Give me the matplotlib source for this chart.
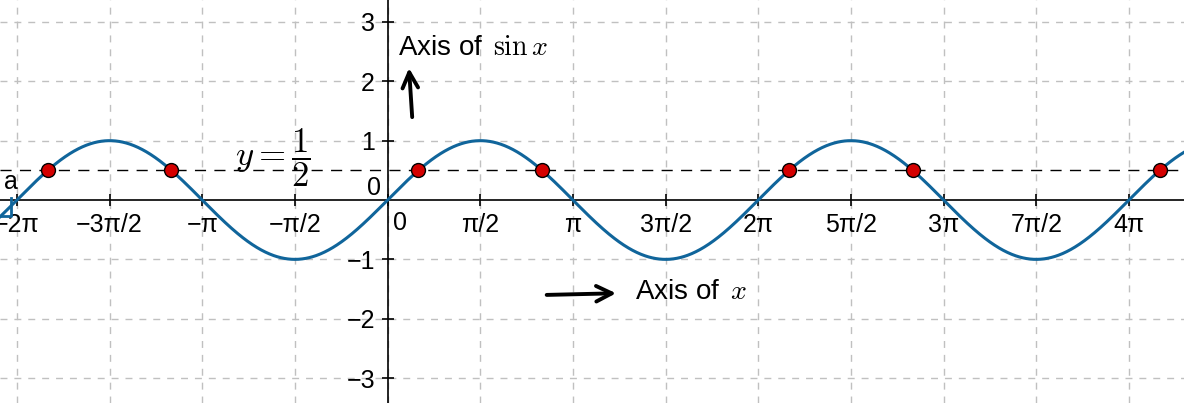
import numpy as np
import matplotlib.pyplot as plt

plt.rcParams['font.family'] = ['Liberation Sans', 'DejaVu Sans']
plt.rcParams['mathtext.fontset'] = 'cm'

# tick positions in units of pi/2 and their labels
x_tick_k = [-4, -3, -2, -1, 0, 1, 2, 3, 4, 5, 6, 7, 8]
x_tick_labels = ['\u22122\u03c0', '\u22123\u03c0/2', '\u2212\u03c0', '\u2212\u03c0/2', '',
                 '\u03c0/2', '\u03c0', '3\u03c0/2', '2\u03c0', '5\u03c0/2', '3\u03c0',
                 '7\u03c0/2', '4\u03c0']
y_ticks = [-3, -2, -1, 1, 2, 3]
y_tick_labels = ['\u22123', '\u22122', '\u22121', '1', '2', '3']

# horizontal line y = a
a = 0.5
# intersections of sin x = 1/2, in units of pi
cross_pi = [-11 / 6, -7 / 6, 1 / 6, 5 / 6, 13 / 6, 17 / 6, 25 / 6]

xmin, xmax = -6.57, 13.5
ymin, ymax = -3.42, 3.37

fig = plt.figure(figsize=(11.84, 4.03), dpi=100)
ax = fig.add_axes([0, 0, 1, 1])
ax.set_xlim(xmin, xmax)
ax.set_ylim(ymin, ymax)

x = np.linspace(xmin, xmax, 2000)
ax.plot(x, np.sin(x), color='#10659b', lw=2.2, zorder=3)
ax.axhline(a, color='black', lw=1.0, dashes=(8, 6), zorder=2)
xc = np.array(cross_pi) * np.pi
ax.plot(xc, np.full_like(xc, a), 'o', ms=10, mfc='#d40000', mec='black', mew=1.0, zorder=4)

# slider remnant at the left edge
ax.plot([-6.57, -6.39, -6.39], [-0.27, -0.27, 0.03], color='#10659b', lw=2.0, zorder=3)

# axes through origin
for s in ['top', 'right']:
    ax.spines[s].set_visible(False)
ax.spines['left'].set_position(('data', 0))
ax.spines['bottom'].set_position(('data', 0))
ax.spines['left'].set_linewidth(1.2)
ax.spines['bottom'].set_linewidth(1.2)

ax.set_xticks(np.array(x_tick_k) * np.pi / 2)
ax.set_xticklabels(x_tick_labels)
ax.set_yticks(y_ticks)
ax.set_yticklabels(y_tick_labels)
ax.tick_params(direction='inout', length=8, width=1.2, labelsize=18, pad=5)
ax.grid(True, color='#c0c0c0', lw=1.0, dashes=(5, 5))
ax.set_axisbelow(True)

ax.text(0.1, -0.18, '0', fontsize=18, ha='left', va='top')
ax.text(-0.12, 0.2, '0', fontsize=18, ha='right', va='center')
ax.text(-6.5, 0.3, 'a', fontsize=18, ha='left', va='center')

ax.text(0.18, 2.56, 'Axis of $\\,\\sin x$', fontsize=20, ha='left', va='center')
ax.text(4.19, -1.55, 'Axis of $\\,x$', fontsize=20, ha='left', va='center')
ax.text(-2.58, 0.72, r'$y=\dfrac{1}{2}$', fontsize=25, ha='left', va='center')

ax.annotate('', xy=(0.36, 2.27), xytext=(0.42, 1.35),
            arrowprops=dict(arrowstyle='->', lw=2.8, color='black', mutation_scale=28))
ax.annotate('', xy=(3.92, -1.57), xytext=(2.65, -1.6),
            arrowprops=dict(arrowstyle='->', lw=2.8, color='black', mutation_scale=28))

fig.savefig('out.png', dpi=100)
